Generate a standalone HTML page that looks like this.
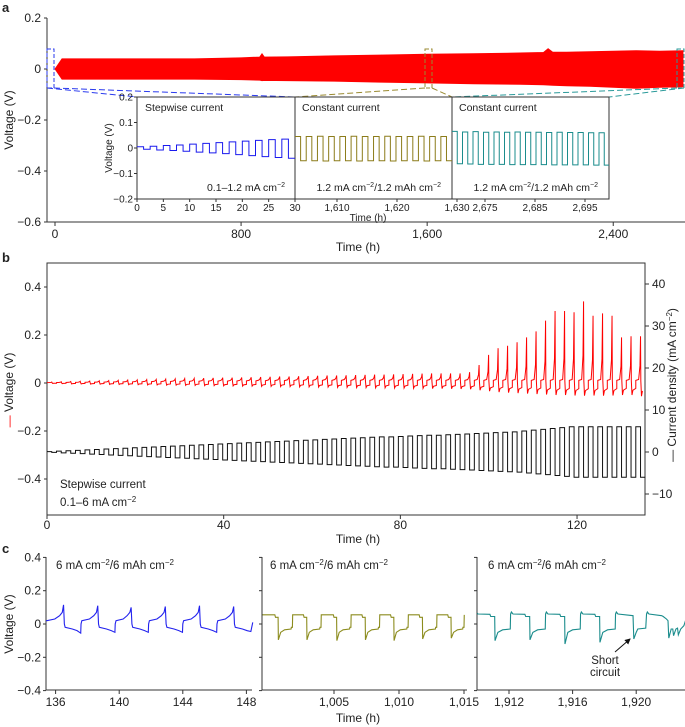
<!DOCTYPE html>
<html><head><meta charset="utf-8">
<style>
body{margin:0;background:#fff;}
svg{display:block;font-family:"Liberation Sans",Arial,sans-serif;}
text{fill:#222;}
</style></head>
<body>
<svg id="fig" width="685" height="727" viewBox="0 0 685 727" xmlns="http://www.w3.org/2000/svg"></svg>
<script>
// ---------- DATA ----------
// Panel a: envelope of long-term cycling voltage
const aTimes = [0, 30, 200, 400, 600, 800, 880, 890, 900, 1000, 1200, 1400, 1600, 1800, 2000, 2100, 2120, 2140, 2200, 2300, 2400, 2500, 2600, 2700];
const aUpper = [0, 0.040, 0.040, 0.040, 0.040, 0.044, 0.047, 0.060, 0.047, 0.048, 0.052, 0.055, 0.058, 0.060, 0.063, 0.065, 0.080, 0.066, 0.066, 0.068, 0.070, 0.072, 0.070, 0.072];
const aLower = [0, -0.040, -0.040, -0.040, -0.040, -0.042, -0.044, -0.046, -0.045, -0.046, -0.048, -0.052, -0.055, -0.058, -0.060, -0.062, -0.063, -0.064, -0.066, -0.068, -0.072, -0.076, -0.072, -0.070];
const aYTicks = [0.2, 0, -0.2, -0.4, -0.6];
const aXTicks = [0, 800, 1600, 2400];
const aXLabels = ["0", "800", "1,600", "2,400"];
// inset
const in1Up = [0.005, 0.007, 0.010, 0.012, 0.015, 0.018, 0.021, 0.024, 0.027, 0.030, 0.033, 0.035];
const in1Lo = [-0.005, -0.008, -0.010, -0.013, -0.016, -0.019, -0.022, -0.026, -0.030, -0.034, -0.037, -0.040];
const in2Up = [0.045, 0.045, 0.046, 0.045, 0.045, 0.046, 0.045, 0.045, 0.046, 0.045, 0.045, 0.046, 0.045, 0.045];
const in2Lo = [-0.050, -0.050, -0.051, -0.050, -0.050, -0.051, -0.050, -0.050, -0.051, -0.050, -0.050, -0.051, -0.050, -0.050];
const in3Up = [0.065, 0.063, 0.064, 0.062, 0.063, 0.062, 0.063, 0.062, 0.062, 0.061, 0.062, 0.061, 0.061, 0.060, 0.060];
const in3Lo = [-0.062, -0.063, -0.064, -0.064, -0.064, -0.065, -0.065, -0.065, -0.065, -0.066, -0.066, -0.066, -0.066, -0.067, -0.067];
const inYTicks = [0.2, 0.1, 0, -0.1, -0.2];
const in1XTicks = [0, 5, 10, 15, 20, 25, 30];
const in2XTicks = [1610, 1620, 1630];
const in2XLabels = ["1,610", "1,620", "1,630"];
const in3XTicks = [2675, 2685, 2695];
const in3XLabels = ["2,675", "2,685", "2,695"];
// Panel b
const bPeaks = [0.004,0.005,0.006,0.007,0.008,0.009,0.010,0.011,0.012,0.013,0.014,0.015,0.016,0.017,0.018,0.019,0.020,0.021,0.022,0.022,0.023,0.024,0.025,0.026,0.027,0.027,0.028,0.029,0.030,0.031,0.031,0.032,0.033,0.034,0.035,0.035,0.036,0.037,0.038,0.039,0.040,0.040,0.040,
  0.040,0.045,0.075,0.117,0.145,0.155,0.170,0.190,0.215,0.260,0.300,0.300,0.295,0.340,0.280,0.290,0.280,0.190,0.195,0.195];
const bTroughs = [-0.002,-0.003,-0.004,-0.004,-0.005,-0.005,-0.006,-0.006,-0.007,-0.007,-0.008,-0.008,-0.009,-0.009,-0.010,-0.010,-0.011,-0.011,-0.012,-0.012,-0.013,-0.013,-0.014,-0.014,-0.015,-0.015,-0.016,-0.016,-0.017,-0.017,-0.018,-0.018,-0.019,-0.019,-0.020,-0.020,-0.021,-0.021,-0.022,-0.022,-0.023,-0.023,-0.024,
  -0.025,-0.026,-0.030,-0.034,-0.038,-0.040,-0.042,-0.044,-0.046,-0.048,-0.050,-0.050,-0.052,-0.053,-0.052,-0.053,-0.052,-0.050,-0.050,-0.055];
const bCurrent = [0.1,0.2,0.3,0.4,0.5,0.6,0.7,0.8,0.9,1.0,1.1,1.2,1.3,1.4,1.5,1.6,1.7,1.8,1.9,2.0,2.1,2.2,2.3,2.4,2.5,2.6,2.7,2.8,2.9,3.0,3.1,3.2,3.3,3.4,3.5,3.6,3.6,3.7,3.8,3.9,4.0,4.0,4.1,
  4.2,4.3,4.4,4.5,4.6,4.7,4.8,5.0,5.2,5.4,5.6,5.8,6.0,6.0,6.0,6.0,6.0,6.0,6.0,6.0];
const bYTicks = [0.4, 0.2, 0, -0.2, -0.4];
const bY2Ticks = [40, 30, 20, 10, 0, -10];
const bXTicks = [0, 40, 80, 120];
// Panel c
const c1Rise = [135.4, 137.6, 139.75, 141.85, 144.0, 146.15, 148.3];
const c1Drop = [136.5, 138.65, 140.75, 142.9, 145.05, 147.2];
const c1Peak = [0.115, 0.110, 0.100, 0.105, 0.110, 0.105];
const c1Dip = [-0.055, -0.050, -0.050, -0.050, -0.050, -0.045];
const c2Drop = [1000.7, 1002.9, 1005.2, 1007.4, 1009.6, 1011.8, 1014.0];
const c2Rise = [1001.8, 1004.0, 1006.3, 1008.5, 1010.7, 1012.9, 1015.0];
const c2Low = [-0.095, -0.095, -0.100, -0.095, -0.100, -0.090, -0.085];
const c3Drop = [1911.1, 1913.3, 1915.5, 1917.7];
const c3Rise = [1912.1, 1914.3, 1916.5, 1918.7];
const c3Low = [-0.100, -0.095, -0.120, -0.110];
const c3TailT = [1919.8, 1919.85, 1920.0, 1920.1, 1920.6, 1920.65, 1920.7, 1920.8, 1921.6, 1921.7, 1921.9, 1922.0, 1922.05, 1922.2, 1922.3, 1922.35, 1922.5, 1922.6, 1922.65, 1922.8, 1923.0, 1923.1];
const c3TailV = [0.050, -0.090, -0.050, -0.030, -0.025, 0.060, 0.072, 0.060, 0.050, 0.045, 0.030, 0.020, -0.085, -0.030, -0.030, -0.070, -0.030, -0.025, -0.065, -0.030, -0.010, 0.020];
const cYTicks = [0.4, 0.2, 0, -0.2, -0.4];
const c1XTicks = [136, 140, 144, 148];
const c2XTicks = [1005, 1010, 1015];
const c2XLabels = ["1,005", "1,010", "1,015"];
const c3XTicks = [1912, 1916, 1920];
const c3XLabels = ["1,912", "1,916", "1,920"];

// ---------- HELPERS ----------
const NS = "http://www.w3.org/2000/svg";
const svg = document.getElementById("fig");
function mk(tag, attrs, parent) {
  const e = document.createElementNS(NS, tag);
  for (const k in attrs) e.setAttribute(k, attrs[k]);
  (parent || svg).appendChild(e);
  return e;
}
function txt(x, y, s, size, anchor, parent, extra) {
  const t = mk("text", Object.assign({x: x, y: y, "font-size": size, "text-anchor": anchor || "start"}, extra || {}), parent);
  t.innerHTML = s;
  return t;
}
function poly(pts, sx, sy) { return pts.map(p => sx(p[0]).toFixed(2) + "," + sy(p[1]).toFixed(2)).join(" "); }
const AX = "#333";

// ---------- PANEL A ----------
const xa = t => 55 + t * 0.2326;
const ya = v => 69 - v * 255;
const ga = mk("g", {});


let lab = txt(2, 12, "a", 13, "start", ga, {"font-weight": "bold"});


// band
const bandPts = [];
for (let i = 0; i < aTimes.length; i++) bandPts.push([aTimes[i], aUpper[i]]);
for (let i = aTimes.length - 1; i >= 0; i--) bandPts.push([aTimes[i], aLower[i]]);
const band = mk("polygon", {points: poly(bandPts, xa, ya), fill: "#ff0000", stroke: "#ff0000", "stroke-width": 0.8}, ga);


// axes
let axl = mk("path", {d: "M47,18 V222 H685", fill: "none", stroke: AX, "stroke-width": 1}, ga);


aYTicks.forEach(v => {
  mk("line", {x1: 44, x2: 47, y1: ya(v), y2: ya(v), stroke: AX}, ga);
  const t = txt(41, ya(v) + 4, v === 0 ? "0" : (v < 0 ? "\u2212" + Math.abs(v).toFixed(1) : v.toFixed(1)), 12, "end", ga);
  
  
});
aXTicks.forEach((v, i) => {
  mk("line", {x1: xa(v), x2: xa(v), y1: 222, y2: 226, stroke: AX}, ga);
  const t = txt(xa(v), 238, aXLabels[i], 12, "middle", ga);
  
  
});
let at = txt(358, 251, "Time (h)", 12, "middle", ga);


let ay = txt(0, 0, "Voltage (V)", 12, "middle", ga, {transform: "translate(13,120) rotate(-90)"});


// dashed zoom boxes and connectors
const zooms = [
  {c: "#2a3aee", x1: 47, x2: 54, tx1: 137, tx2: 295},
  {c: "#9a8a30", x1: 425, x2: 432, tx1: 295, tx2: 452},
  {c: "#2a9a9a", x1: 677, x2: 684, tx1: 452, tx2: 609}
];
zooms.forEach(z => {
  const r = mk("rect", {x: z.x1, y: 49, width: z.x2 - z.x1, height: 39, fill: "none", stroke: z.c, "stroke-width": 1, "stroke-dasharray": "4,2"}, ga);
  
  
  mk("line", {x1: z.x1, y1: 88, x2: z.tx1, y2: 97, stroke: z.c, "stroke-dasharray": "6,3"}, ga);
  mk("line", {x1: z.x2, y1: 88, x2: z.tx2, y2: 97, stroke: z.c, "stroke-dasharray": "6,3"}, ga);
});
// inset
const gi = mk("g", {}, ga);


mk("rect", {x: 137, y: 97, width: 472, height: 102, fill: "#fff", stroke: AX, "stroke-width": 1}, gi);
mk("line", {x1: 295, x2: 295, y1: 97, y2: 199, stroke: AX}, gi);
mk("line", {x1: 452, x2: 452, y1: 97, y2: 199, stroke: AX}, gi);
const yi = v => 148 - v * 255;
inYTicks.forEach(v => {
  mk("line", {x1: 134, x2: 137, y1: yi(v), y2: yi(v), stroke: AX}, gi);
  const t = txt(133, yi(v) + 3.5, v === 0 ? "0" : (v < 0 ? "\u2212" + Math.abs(v).toFixed(1) : v.toFixed(1)), 10, "end", gi);
  
  
});
let iyt = txt(0, 0, "Voltage (V)", 10, "middle", gi, {transform: "translate(112,148) rotate(-90)"});


const xi1 = t => 137 + t * (158 / 30);
const xi2 = t => 295 + (t - 1603) * 6;
const xi3 = t => 452 + (t - 2668.4) * 5;
function squareWave(up, lo, t0, P) {
  const pts = [];
  for (let i = 0; i < up.length; i++) {
    const s = t0 + i * P;
    pts.push([s, up[i]], [s + P / 2, up[i]], [s + P / 2, lo[i]], [s + P, lo[i]]);
  }
  return pts;
}
const insets = [
  {up: in1Up, lo: in1Lo, t0: 0, P: 2.5, sx: xi1, c: "#1a1aee", x0: 137, x1: 295, n: "inset-stepwise-trace"},
  {up: in2Up, lo: in2Lo, t0: 1603, P: 1.87, sx: xi2, c: "#8c7c1a", x0: 295, x1: 452, n: "inset-constant-trace-1"},
  {up: in3Up, lo: in3Lo, t0: 2668.4, P: 2.1, sx: xi3, c: "#1a8c8c", x0: 452, x1: 609, n: "inset-constant-trace-2"}
];
insets.forEach((s, k) => {
  mk("clipPath", {id: "ic" + k}, gi).appendChild(Object.assign(document.createElementNS(NS, "rect")));
  const cp = document.getElementById("ic" + k).firstChild;
  cp.setAttribute("x", s.x0); cp.setAttribute("y", 97); cp.setAttribute("width", s.x1 - s.x0); cp.setAttribute("height", 102);
  const p = mk("polyline", {points: poly(squareWave(s.up, s.lo, s.t0, s.P), s.sx, yi), fill: "none", stroke: s.c, "stroke-width": 1, "clip-path": "url(#ic" + k + ")"}, gi);
  
  
});
in1XTicks.forEach(v => {
  mk("line", {x1: xi1(v), x2: xi1(v), y1: 199, y2: 202, stroke: AX}, gi);
  const t = txt(xi1(v), 211, String(v), 10, "middle", gi);
  
  
});
in2XTicks.forEach((v, i) => {
  mk("line", {x1: xi2(v), x2: xi2(v), y1: 199, y2: 202, stroke: AX}, gi);
  const t = txt(xi2(v), 211, in2XLabels[i], 10, "middle", gi);
  
  
});
in3XTicks.forEach((v, i) => {
  mk("line", {x1: xi3(v), x2: xi3(v), y1: 199, y2: 202, stroke: AX}, gi);
  const t = txt(xi3(v), 211, in3XLabels[i], 10, "middle", gi);
  
  
});
let ixt = txt(368, 221, "Time (h)", 10, "middle", gi);


[["Stepwise current", 145], ["Constant current", 302], ["Constant current", 459]].forEach(a => {
  const t = txt(a[1], 111, a[0], 10.5, "start", gi);
  
  
});
[["0.1\u20131.2 mA cm<tspan dy='-4' font-size='7'>\u22122</tspan>", 285], ["1.2 mA cm<tspan dy='-4' font-size='7'>\u22122</tspan><tspan dy='4'>/1.2 mAh cm</tspan><tspan dy='-4' font-size='7'>\u22122</tspan>", 441], ["1.2 mA cm<tspan dy='-4' font-size='7'>\u22122</tspan><tspan dy='4'>/1.2 mAh cm</tspan><tspan dy='-4' font-size='7'>\u22122</tspan>", 598]].forEach(a => {
  const t = txt(a[1], 191, a[0], 10.5, "end", gi);
  
  
});

// ---------- PANEL B ----------
const xb = t => 47 + t * 4.417;
const yb = v => 383 - v * 240;
const yb2 = i => 452 - i * 4.2;
const CYC = 2.15;
const gb = mk("g", {});


lab = txt(2, 262, "b", 13, "start", gb, {"font-weight": "bold"});


let bbox = mk("rect", {x: 47, y: 263, width: 598, height: 252, fill: "none", stroke: AX, "stroke-width": 1}, gb);


// current trace
const curPts = [];
bCurrent.forEach((a, i) => {
  const s = i * CYC;
  curPts.push([s, a], [s + CYC / 2, a], [s + CYC / 2, -a], [s + CYC, -a]);
});
const cur = mk("polyline", {points: curPts.map(p => xb(p[0]).toFixed(2) + "," + yb2(p[1]).toFixed(2)).join(" "), fill: "none", stroke: "#111", "stroke-width": 1}, gb);


// voltage trace
const vPts = [];
bPeaks.forEach((p, i) => {
  const s = i * CYC, q = bTroughs[i];
  const lvl = Math.min(p * 0.6, 0.018);
  vPts.push([s, lvl * 0.6], [s + CYC * 0.3, lvl * 0.8], [s + CYC * 0.44, lvl + (p - lvl) * 0.3], [s + CYC * 0.5, p],
            [s + CYC * 0.53, lvl * 0.5], [s + CYC * 0.6, q], [s + CYC * 0.7, q * 0.6], [s + CYC, q * 0.45]);
});
const vb = mk("polyline", {points: poly(vPts.filter(p => p[0] <= 135.4), xb, yb), fill: "none", stroke: "#ff0000", "stroke-width": 1}, gb);


bYTicks.forEach(v => {
  mk("line", {x1: 44, x2: 47, y1: yb(v), y2: yb(v), stroke: AX}, gb);
  const t = txt(41, yb(v) + 4, v === 0 ? "0" : (v < 0 ? "\u2212" + Math.abs(v).toFixed(1) : v.toFixed(1)), 12, "end", gb);
  
  
});
bY2Ticks.forEach(v => {
  mk("line", {x1: 645, x2: 649, y1: yb2(v), y2: yb2(v), stroke: AX}, gb);
  const t = txt(652, yb2(v) + 4, v < 0 ? "\u2212" + Math.abs(v) : String(v), 12, "start", gb);
  
  
});
bXTicks.forEach(v => {
  mk("line", {x1: xb(v), x2: xb(v), y1: 515, y2: 519, stroke: AX}, gb);
  const t = txt(xb(v), 529, String(v), 12, "middle", gb);
  
  
});
let bt = txt(358, 543, "Time (h)", 12, "middle", gb);


let by = txt(0, 0, "<tspan fill='#ff0000'>\u2014</tspan> Voltage (V)", 12, "middle", gb, {transform: "translate(13,390) rotate(-90)"});


let by2 = txt(0, 0, "\u2014 Current density (mA cm<tspan dy='-4' font-size='8'>\u22122</tspan><tspan dy='4'>)</tspan>", 12, "middle", gb, {transform: "translate(676,385) rotate(-90)"});


let bn1 = txt(60, 488, "Stepwise current", 11.5, "start", gb);


let bn2 = txt(60, 506, "0.1\u20136 mA cm<tspan dy='-4' font-size='8'>\u22122</tspan>", 11.5, "start", gb);



// ---------- PANEL C ----------
const yc = v => 624 - v * 166.5;
const xc1 = t => 55.6 + (t - 136) * 15.9;
const xc2 = t => 399 + (t - 1010) * 13;
const xc3 = t => 509 + (t - 1912) * 15.9;
const gc = mk("g", {});


lab = txt(2, 553, "c", 13, "start", gc, {"font-weight": "bold"});


[[46, 252], [262, 467], [477, 685]].forEach(r => {
  const p = mk("path", {d: "M" + r[0] + ",557 V690 H" + r[1], fill: "none", stroke: AX}, gc);
  
  
  cYTicks.forEach(v => mk("line", {x1: r[0] - 3, x2: r[0], y1: yc(v), y2: yc(v), stroke: AX}, gc));
});
cYTicks.forEach(v => {
  const t = txt(41, yc(v) + 4, v === 0 ? "0" : (v < 0 ? "\u2212" + Math.abs(v).toFixed(1) : v.toFixed(1)), 12, "end", gc);
  
  
});
let cy = txt(0, 0, "Voltage (V)", 12, "middle", gc, {transform: "translate(13,624) rotate(-90)"});


function xtick(sx, vals, labels) {
  vals.forEach((v, i) => {
    mk("line", {x1: sx(v), x2: sx(v), y1: 690, y2: 694, stroke: AX}, gc);
    const t = txt(sx(v), 706, labels[i], 12, "middle", gc);
    
    
  });
}
xtick(xc1, c1XTicks, c1XTicks.map(String));
xtick(xc2, c2XTicks, c2XLabels);
xtick(xc3, c3XTicks, c3XLabels);
let ct = txt(358, 722, "Time (h)", 12, "middle", gc);


[56, 270, 488].forEach(x => {
  const t = txt(x, 569, "6 mA cm<tspan dy='-4' font-size='8'>\u22122</tspan><tspan dy='4'>/6 mAh cm</tspan><tspan dy='-4' font-size='8'>\u22122</tspan>", 11.5, "start", gc);
  
  
});
// c1 trace
const c1Pts = [];
c1Drop.forEach((d, i) => {
  const r = c1Rise[i];
  const m = (r + d) / 2;
  c1Pts.push([r, i === 0 ? 0.02 : 0.0], [r + 0.05, 0.02], [m, 0.03], [d - 0.25, 0.05], [d - 0.08, 0.07], [d, c1Peak[i]], [d + 0.05, 0.0], [d + 0.1, -0.02]);
  const rn = c1Rise[i + 1];
  c1Pts.push([(d + rn) / 2, -0.03], [rn - 0.25, -0.04], [rn - 0.02, c1Dip[i]]);
});
c1Pts.push([148.4, 0.01]);
let c1 = mk("polyline", {points: poly(c1Pts.filter(p => p[0] >= 135.4), xc1, yc), fill: "none", stroke: "#2222ee", "stroke-width": 1.1}, gc);


// c2 trace
const c2Pts = [[999.5, 0.055]];
c2Drop.forEach((d, i) => {
  c2Pts.push([d - 0.25, 0.055], [d - 0.2, 0.04], [d, 0.04], [d + 0.02, c2Low[i]], [d + 0.2, -0.05], [d + 0.5, -0.035], [c2Rise[i] - 0.1, -0.03], [c2Rise[i] - 0.08, -0.02], [c2Rise[i], -0.02], [c2Rise[i] + 0.02, 0.055]);
});
let c2 = mk("polyline", {points: poly(c2Pts.filter(p => p[0] <= 1015.2), xc2, yc), fill: "none", stroke: "#8c8c1e", "stroke-width": 1.1}, gc);


// c3 trace
const c3Pts = [[1910, 0.065], [1910.05, 0.06]];
c3Drop.forEach((d, i) => {
  c3Pts.push([d - 0.3, 0.058], [d - 0.25, 0.045], [d, 0.045], [d + 0.02, c3Low[i]], [d + 0.2, -0.05], [d + 0.5, -0.035], [c3Rise[i] - 0.02, -0.03], [c3Rise[i], 0.06], [c3Rise[i] + 0.05, 0.072], [c3Rise[i] + 0.15, 0.06]);
});
for (let i = 0; i < c3TailT.length; i++) c3Pts.push([c3TailT[i], c3TailV[i]]);
let c3 = mk("polyline", {points: poly(c3Pts, xc3, yc), fill: "none", stroke: "#1a8c8c", "stroke-width": 1.1}, gc);


// short circuit annotation
mk("defs", {}, gc).innerHTML = "<marker id='arr' markerWidth='6' markerHeight='6' refX='5' refY='3' orient='auto'><path d='M0,0 L6,3 L0,6 z' fill='#111'/></marker>";
let arrow = mk("line", {x1: 615, y1: 652, x2: 630, y2: 639, stroke: "#111", "stroke-width": 1, "marker-end": "url(#arr)"}, gc);


let sc1 = txt(605, 664, "Short", 11.5, "middle", gc);


let sc2 = txt(605, 676, "circuit", 11.5, "middle", gc);


</script>
</body></html>
